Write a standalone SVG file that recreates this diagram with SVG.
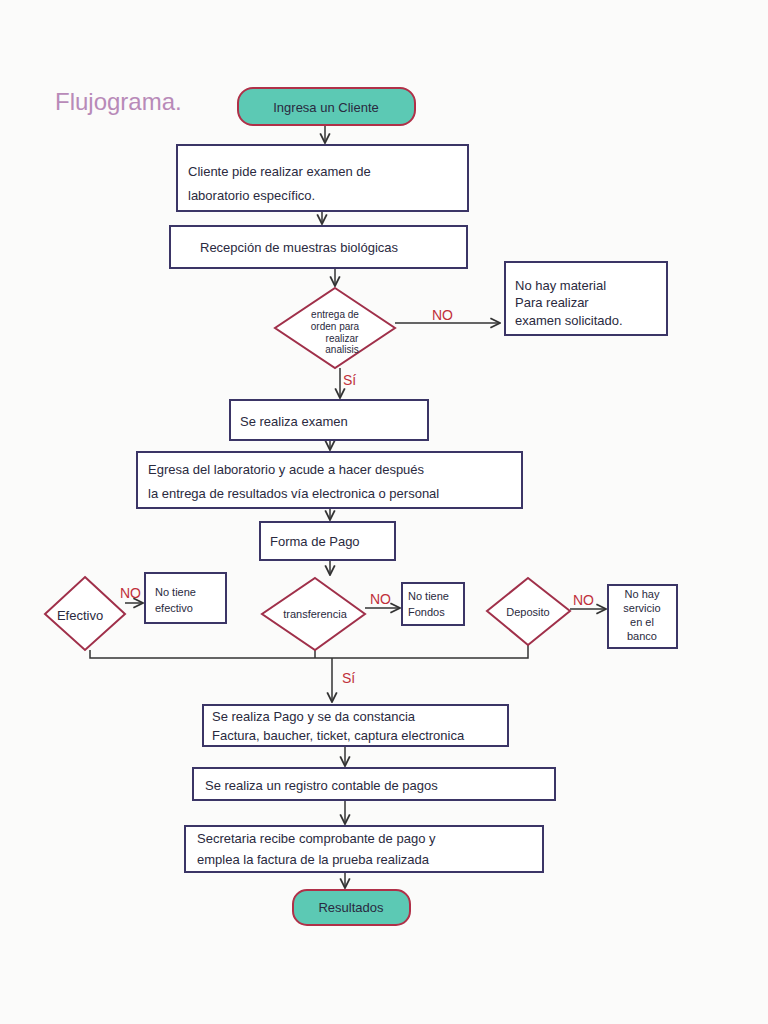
<svg xmlns="http://www.w3.org/2000/svg" width="768" height="1024" viewBox="0 0 768 1024">
<style>
.b{fill:#fff;stroke:#3b3566;stroke-width:2}
.d{fill:#fff;stroke:#a0304a;stroke-width:2}
.t{fill:#5cc9b4;stroke:#b03048;stroke-width:2}
text{font-family:"Liberation Sans",sans-serif;font-size:13px;fill:#2a2a40}
.no{fill:#c0303a;font-size:14px}
.c{stroke:#333;stroke-width:1.5;fill:none}
</style>
<defs><marker id="a" viewBox="0 0 10 10" refX="9" refY="5" markerWidth="8" markerHeight="8" orient="auto"><path d="M1 1L9 5L1 9" fill="none" stroke="#333" stroke-width="1.5"/></marker></defs>
<rect width="768" height="1024" fill="#fbfbfa"/>
<text x="55" y="110" style="font-size:24px;fill:#b88ab8">Flujograma.</text>
<g class="c" id="connectors">
<line x1="325" y1="125" x2="325" y2="143" marker-end="url(#a)"/>
<line x1="322" y1="211" x2="322" y2="224" marker-end="url(#a)"/>
<line x1="335" y1="268" x2="335" y2="286" marker-end="url(#a)"/>
<line x1="395" y1="323" x2="500" y2="323" marker-end="url(#a)"/>
<line x1="340" y1="368" x2="340" y2="398" marker-end="url(#a)"/>
<line x1="330" y1="440" x2="330" y2="450" marker-end="url(#a)"/>
<line x1="330" y1="508" x2="330" y2="520" marker-end="url(#a)"/>
<line x1="330" y1="560" x2="330" y2="575" marker-end="url(#a)"/>
<line x1="125" y1="603" x2="143" y2="603" marker-end="url(#a)"/>
<line x1="365" y1="608" x2="400" y2="608" marker-end="url(#a)"/>
<line x1="570" y1="609" x2="606" y2="609" marker-end="url(#a)"/>
<polyline points="90,650 90,658 528,658 528,645"/>
<line x1="315" y1="650" x2="315" y2="658"/>
<line x1="332" y1="658" x2="332" y2="702" marker-end="url(#a)"/>
<line x1="345" y1="746" x2="345" y2="766" marker-end="url(#a)"/>
<line x1="345" y1="800" x2="345" y2="824" marker-end="url(#a)"/>
<line x1="345" y1="872" x2="345" y2="888" marker-end="url(#a)"/>
</g>
<text class="no" x="432" y="320">NO</text>
<text class="no" x="343" y="385">Sí</text>
<text class="no" x="120" y="598">NO</text>
<text class="no" x="370" y="604">NO</text>
<text class="no" x="573" y="605">NO</text>
<text class="no" x="342" y="683">Sí</text>
<g id="start"><rect class="t" x="238" y="88" width="177" height="37" rx="15"/><text x="326" y="112" text-anchor="middle">Ingresa un Cliente</text></g>
<g id="n1"><rect class="b" x="177" y="145" width="291" height="66"/><text x="188" y="176">Cliente pide realizar examen de</text><text x="188" y="200">laboratorio específico.</text></g>
<g id="n2"><rect class="b" x="170" y="226" width="297" height="42"/><text x="200" y="252">Recepción de muestras biológicas</text></g>
<g id="q1"><polygon class="d" points="335,288 395,328 335,368 275,328"/><text x="335" y="318" text-anchor="middle" style="font-size:10px">entrega de</text><text x="335" y="330" text-anchor="middle" style="font-size:10px">orden para</text><text x="342" y="342" text-anchor="middle" style="font-size:10px">realizar</text><text x="342" y="353" text-anchor="middle" style="font-size:10px">analisis</text></g>
<g id="n3"><rect class="b" x="505" y="262" width="162" height="73"/><text x="515" y="290">No hay material</text><text x="515" y="307">Para realizar</text><text x="515" y="325">examen solicitado.</text></g>
<g id="n4"><rect class="b" x="230" y="400" width="198" height="40"/><text x="240" y="426">Se realiza examen</text></g>
<g id="n5"><rect class="b" x="137" y="452" width="385" height="56"/><text x="148" y="474">Egresa del laboratorio y acude a hacer después</text><text x="148" y="498">la entrega de resultados vía electronica o personal</text></g>
<g id="n6"><rect class="b" x="260" y="522" width="135" height="38"/><text x="270" y="546">Forma de Pago</text></g>
<g id="q2"><polygon class="d" points="85,577 125,614 85,650 45,614"/><text x="80" y="620" text-anchor="middle">Efectivo</text></g>
<g id="n7"><rect class="b" x="145" y="573" width="81" height="50"/><text x="155" y="596" style="font-size:11px">No tiene</text><text x="155" y="612" style="font-size:11px">efectivo</text></g>
<g id="q3"><polygon class="d" points="315,578 365,614 315,650 262,614"/><text x="315" y="618" text-anchor="middle" style="font-size:11px">transferencia</text></g>
<g id="n8"><rect class="b" x="402" y="583" width="62" height="42"/><text x="408" y="600" style="font-size:11px">No tiene</text><text x="408" y="616" style="font-size:11px">Fondos</text></g>
<g id="q4"><polygon class="d" points="528,578 570,611 528,645 487,611"/><text x="528" y="616" text-anchor="middle" style="font-size:11px">Deposito</text></g>
<g id="n9"><rect class="b" x="608" y="585" width="69" height="63"/><text x="642" y="598" text-anchor="middle" style="font-size:11px">No hay</text><text x="642" y="612" text-anchor="middle" style="font-size:11px">servicio</text><text x="642" y="626" text-anchor="middle" style="font-size:11px">en el</text><text x="642" y="640" text-anchor="middle" style="font-size:11px">banco</text></g>
<g id="n10"><rect class="b" x="203" y="705" width="305" height="41"/><text x="212" y="721">Se realiza Pago y se da constancia</text><text x="212" y="740">Factura, baucher, ticket, captura electronica</text></g>
<g id="n11"><rect class="b" x="193" y="768" width="362" height="32"/><text x="205" y="790">Se realiza un registro contable de pagos</text></g>
<g id="n12"><rect class="b" x="185" y="826" width="358" height="46"/><text x="197" y="843">Secretaria recibe comprobante de pago y</text><text x="197" y="864">emplea la factura de la prueba realizada</text></g>
<g id="end"><rect class="t" x="293" y="890" width="117" height="35" rx="14"/><text x="351" y="912" text-anchor="middle">Resultados</text></g>
</svg>
